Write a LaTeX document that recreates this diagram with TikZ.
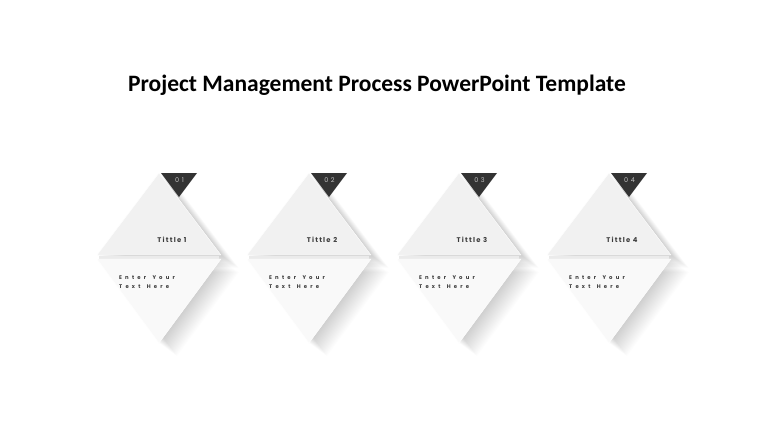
\documentclass[tikz,border=0pt]{standalone}
\usepackage{fontspec}
\setmainfont{Carlito}
\newfontfamily\labfont[LetterSpace=18]{Poppins}
\newfontfamily\bodyfont[LetterSpace=60,WordSpace=1.5]{Poppins}
\newfontfamily\numfont[LetterSpace=40]{Poppins}
\definecolor{upper}{HTML}{F1F1F1}
\definecolor{lower}{HTML}{F9F9F9}
\definecolor{dark}{HTML}{333333}
\definecolor{txt}{HTML}{3A3A3A}
\tikzset{
  uppertri/.style={fill=upper, draw=white, line width=0.4pt},
  lowertri/.style={fill=lower, draw=white, line width=0.4pt},
  darktri/.style={fill=dark},
  shadowlayer/.style={fill=black, opacity=0.007},
  titlelbl/.style={font=\labfont\bfseries\fontsize{6.8}{8}\selectfont, text=txt, inner sep=0pt},
  bodylbl/.style={font=\bodyfont\bfseries\fontsize{5.3}{9.5}\selectfont, text=txt, inner sep=0pt, align=left, anchor=north west},
  numlbl/.style={font=\numfont\fontsize{6.5}{7}\selectfont, text=gray!50, inner sep=0pt},
  headline/.style={font=\bfseries\fontsize{23.5}{28}\selectfont, text=black, inner sep=0pt}
}
\begin{document}
\begin{tikzpicture}[x=1pt, y=-1pt]
\useasboundingbox (0,0) rectangle (768,432);
\fill[white] (0,0) rectangle (768,432);
\node[headline] (head) at (377,85) {Project Management Process PowerPoint Template};
\foreach \i/\x in {1/159,2/309,3/459,4/609}{
  % soft shadow
  \foreach \k in {1,...,24}{
    \fill[shadowlayer] ({\x-62+0.75*\k},{255+0.55*\k}) -- ({\x+0.75*\k},{173+0.55*\k}) -- ({\x+62+0.75*\k},{255+0.55*\k}) -- cycle;
    \fill[shadowlayer] ({\x-62+0.75*\k},{259+0.55*\k}) -- ({\x+62+0.75*\k},{259+0.55*\k}) -- ({\x+0.75*\k},{343+0.55*\k}) -- cycle;
  }
  % separator band
  \fill[gray!16] (\x-60,255.5) rectangle (\x+60,258.5);
  \draw[uppertri] (\x-62,255) -- (\x,173) -- (\x+62,255) -- cycle;
  \draw[lowertri] (\x-62,259) -- (\x+62,259) -- (\x,343) -- cycle;
  \fill[darktri] (\x+2,173) -- (\x+38,173) -- (\x+20,197) -- cycle;
  \node[numlbl] (n\i) at (\x+20.5,180.5) {0\i};
  \node[titlelbl] (t\i) at (\x+13,240) {Tittle \i};
  \node[bodylbl] (b\i) at (\x-40,275.5) {Enter Your\\Text Here};
}
\end{tikzpicture}
\end{document}
